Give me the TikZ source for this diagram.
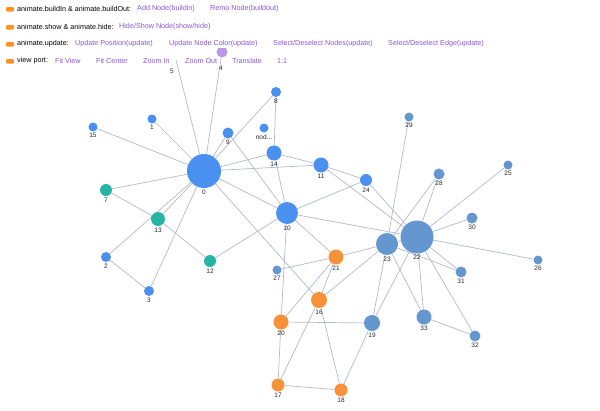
\documentclass[tikz,border=0pt]{standalone}
\usepackage{fontspec}
\setmainfont{Liberation Sans}
\usetikzlibrary{positioning,backgrounds}
\definecolor{nblue}{HTML}{4A90F0}
\definecolor{nteal}{HTML}{26B5A5}
\definecolor{norange}{HTML}{F7923A}
\definecolor{nsteel}{HTML}{6497D0}
\definecolor{btn}{HTML}{8A55D6}
\definecolor{edge}{HTML}{B4B8CC}
\begin{document}
\begin{tikzpicture}[
    x=1pt, y=-1pt,
    vtx/.style={circle, inner sep=0pt},
    lbl/.style={font=\fontsize{6.5}{7}\selectfont, inner sep=1pt, black!85},
    link/.style={draw=edge, line width=0.7pt},
    txt/.style={anchor=west, font=\fontsize{7.2}{8}\selectfont, inner sep=0pt},
    button/.style={txt, text=btn},
    hand/.style={fill=orange!85, rounded corners=1pt}
]
\useasboundingbox (0,0) rectangle (600,410);

% graph nodes: name/x/y/radius/colour
\foreach \n/\x/\y/\r/\c in {
    0/204/171/17/nblue, 1/152/119/4.5/nblue, 2/106/257/5/nblue, 3/149/291/5/nblue,
    7/106/190/6/nteal, 8/276/92/5/nblue, 9/228/133/5.5/nblue, nod/264/128/4.5/nblue,
    10/287/213/11/nblue, 11/321/165/7.5/nblue, 12/210/261/6/nteal, 13/158/219/7/nteal,
    14/274/153/7.5/nblue, 15/93/127/4.5/nblue, 16/319/300/8/norange, 17/278/385/6.5/norange,
    18/341/390/6.5/norange, 19/372/323/8/nsteel, 20/281/322/7.5/norange, 21/336/257/7.5/norange,
    22/417/237/16.5/nsteel, 23/387/244/11/nsteel, 24/366/180/6/nblue, 25/508/165/4.5/nsteel,
    26/538/260/4.5/nsteel, 27/277/270/4.5/nsteel, 28/439/174/5.5/nsteel, 29/409/117/4.5/nsteel,
    30/472/218/5.5/nsteel, 31/461/272/5.5/nsteel, 32/475/336/5.5/nsteel, 33/424/317/7.5/nsteel}
    \node[vtx, fill=\c, minimum size=2*\r pt] (v\n) at (\x,\y) {};

\foreach \n in {0,1,2,3,7,8,9,10,11,12,13,14,15,16,17,18,19,20,21,22,23,24,25,26,27,28,29,30,31,32,33}
    \node[lbl, below=0.5pt of v\n] {\n};
\node[lbl, below=0.5pt of vnod] {nod...};

% nodes under the toolbar
\node[vtx, fill=btn!60, minimum size=11pt] (v4) at (222,52) {};
\node[lbl] at (221,68) {4};
\coordinate (v5) at (176,60);
\node[lbl] at (172,71) {5};

\begin{scope}[on background layer]
\foreach \a/\b in {0/1, 0/15, 0/5, 0/4, 0/9, 0/8, 0/14, 0/11, 0/7, 0/13, 0/2, 0/3,
    0/10, 0/16, 7/13, 13/12, 2/3, 12/10, 9/10, 8/14, 14/10, 14/11, 11/24, 11/22,
    10/24, 10/22, 10/21, 10/20, 21/27, 21/23, 21/16, 21/20, 16/23, 16/18, 16/17,
    17/20, 17/18, 18/19, 19/20, 19/23, 19/22, 23/33, 22/33, 22/32, 22/31, 22/30,
    22/28, 22/25, 22/26, 29/23, 28/23, 24/22, 23/22, 33/32, 23/31}
    \draw[link] (v\a) -- (v\b);
\end{scope}

% toolbar
\fill[white] (0,0) rectangle (600,48);
\foreach \y in {9,27,44,61}
    \fill[hand] (6,\y-2) rectangle (14,\y+2.5);
\node[txt] (r1) at (17,9) {animate.buildIn \& animate.buildOut:};
\node[button] at (137,9) {Add Node(buildin)};
\node[button] at (210,9) {Remo Node(buildout)};
\node[txt] (r2) at (17,27) {animate.show \& animate.hide:};
\node[button] at (119,27) {Hide/Show Node(show/hide)};
\node[txt] (r3) at (17,44) {animate.update:};
\node[button] at (75,44) {Update Position(update)};
\node[button] at (169,44) {Update Node Color(update)};
\node[button] at (273,44) {Select/Deselect Nodes(update)};
\node[button] at (388,44) {Select/Deselect Edge(update)};
\node[txt] (r4) at (17,61) {view port:};
\node[button] at (55,61) {Fit View};
\node[button] at (96,61) {Fit Center};
\node[button] at (143,61) {Zoom In};
\node[button] at (185,61) {Zoom Out};
\node[button] at (232,61) {Translate};
\node[button] at (277,61) {1:1};
\end{tikzpicture}
\end{document}
